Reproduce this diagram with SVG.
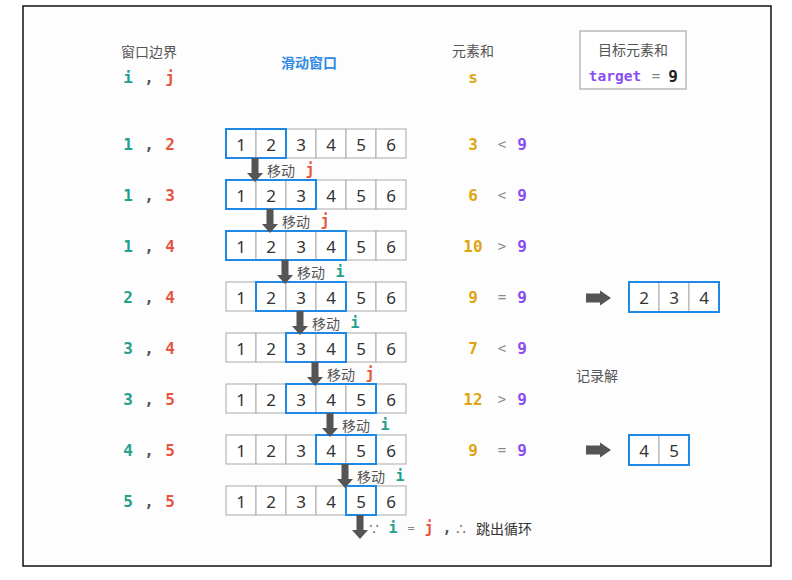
<svg xmlns="http://www.w3.org/2000/svg" width="792" height="580" viewBox="0 0 792 580">
<style>
.cell{fill:#fff;stroke:#aaa;stroke-width:1}
.win{fill:none;stroke:#1e88e5;stroke-width:2}
.num{font-family:"Noto Sans","DejaVu Sans",sans-serif;font-size:17px;fill:#333;text-anchor:middle;dominant-baseline:central}
.cn{font-family:"Noto Sans CJK SC",sans-serif;font-size:14px;fill:#555;dominant-baseline:central}
.mono{font-family:"DejaVu Sans Mono","Liberation Mono",monospace;font-size:16px;font-weight:bold;text-anchor:middle;dominant-baseline:central}
.vi{fill:#26a08e}.vj{fill:#e8553f}.vs{fill:#e0a512}.vt{fill:#8a4df0}.vk{fill:#222}
.op{font-family:"DejaVu Sans Mono",monospace;font-size:14px;fill:#888;text-anchor:middle;dominant-baseline:central}
.arr{fill:#555}
</style>
<defs>
<g id="row">
<rect class="cell" x="0" y="0" width="30" height="29"/>
<rect class="cell" x="30" y="0" width="30" height="29"/>
<rect class="cell" x="60" y="0" width="30" height="29"/>
<rect class="cell" x="90" y="0" width="30" height="29"/>
<rect class="cell" x="120" y="0" width="30" height="29"/>
<rect class="cell" x="150" y="0" width="30" height="29"/>
<text class="num" x="15" y="15">1</text>
<text class="num" x="45" y="15">2</text>
<text class="num" x="75" y="15">3</text>
<text class="num" x="105" y="15">4</text>
<text class="num" x="135" y="15">5</text>
<text class="num" x="165" y="15">6</text>
</g>
<polygon id="down" class="arr" points="-3.5,0 3.5,0 3.5,15 8,15 0,24 -8,15 -3.5,15"/>
<polygon id="right" class="arr" points="0,-4.5 14,-4.5 14,-7.5 25,0 14,7.5 14,4.5 0,4.5"/>
</defs>
<rect x="23" y="6" width="748" height="560" fill="#fdfdfd" stroke="#111" stroke-width="1.5"/>

<g id="header">
<text class="cn" x="149" y="51" text-anchor="middle">窗口边界</text>
<text class="mono vi" x="128" y="77">i</text>
<text class="mono vk" x="149" y="77" style="fill:#555">,</text>
<text class="mono vj" x="170" y="77">j</text>
<text class="cn" x="309" y="62" text-anchor="middle" style="fill:#2f8ae6;font-weight:bold">滑动窗口</text>
<text class="cn" x="473" y="50" text-anchor="middle">元素和</text>
<text class="mono vs" x="473" y="77">s</text>
</g>
<g id="target">
<rect x="580" y="31" width="106" height="58" fill="#fff" stroke="#999" stroke-width="1"/>
<text class="cn" x="633" y="49" text-anchor="middle">目标元素和</text>
<text class="mono vt" x="615" y="76" style="font-size:14.5px">target</text>
<text class="op" x="656" y="76">=</text>
<text class="mono vk" x="673" y="76">9</text>
</g>

<g id="row1" transform="translate(0,129)">
<text class="mono vi" x="128" y="15">1</text><text class="mono" x="149" y="15" style="fill:#555">,</text><text class="mono vj" x="170" y="15">2</text>
<use href="#row" x="226"/><rect class="win" x="226" y="0" width="60" height="29"/>
<text class="mono vs" x="473" y="15">3</text><text class="op" x="502" y="15">&lt;</text><text class="mono vt" x="522" y="15">9</text>
</g>
<g id="row2" transform="translate(0,180)">
<text class="mono vi" x="128" y="15">1</text><text class="mono" x="149" y="15" style="fill:#555">,</text><text class="mono vj" x="170" y="15">3</text>
<use href="#row" x="226"/><rect class="win" x="226" y="0" width="90" height="29"/>
<text class="mono vs" x="473" y="15">6</text><text class="op" x="502" y="15">&lt;</text><text class="mono vt" x="522" y="15">9</text>
</g>
<g id="row3" transform="translate(0,231)">
<text class="mono vi" x="128" y="15">1</text><text class="mono" x="149" y="15" style="fill:#555">,</text><text class="mono vj" x="170" y="15">4</text>
<use href="#row" x="226"/><rect class="win" x="226" y="0" width="120" height="29"/>
<text class="mono vs" x="473" y="15">10</text><text class="op" x="502" y="15">&gt;</text><text class="mono vt" x="522" y="15">9</text>
</g>
<g id="row4" transform="translate(0,282)">
<text class="mono vi" x="128" y="15">2</text><text class="mono" x="149" y="15" style="fill:#555">,</text><text class="mono vj" x="170" y="15">4</text>
<use href="#row" x="226"/><rect class="win" x="256" y="0" width="90" height="29"/>
<text class="mono vs" x="473" y="15">9</text><text class="op" x="502" y="15">=</text><text class="mono vt" x="522" y="15">9</text>
</g>
<g id="row5" transform="translate(0,333)">
<text class="mono vi" x="128" y="15">3</text><text class="mono" x="149" y="15" style="fill:#555">,</text><text class="mono vj" x="170" y="15">4</text>
<use href="#row" x="226"/><rect class="win" x="286" y="0" width="60" height="29"/>
<text class="mono vs" x="473" y="15">7</text><text class="op" x="502" y="15">&lt;</text><text class="mono vt" x="522" y="15">9</text>
</g>
<g id="row6" transform="translate(0,384)">
<text class="mono vi" x="128" y="15">3</text><text class="mono" x="149" y="15" style="fill:#555">,</text><text class="mono vj" x="170" y="15">5</text>
<use href="#row" x="226"/><rect class="win" x="286" y="0" width="90" height="29"/>
<text class="mono vs" x="473" y="15">12</text><text class="op" x="502" y="15">&gt;</text><text class="mono vt" x="522" y="15">9</text>
</g>
<g id="row7" transform="translate(0,435)">
<text class="mono vi" x="128" y="15">4</text><text class="mono" x="149" y="15" style="fill:#555">,</text><text class="mono vj" x="170" y="15">5</text>
<use href="#row" x="226"/><rect class="win" x="316" y="0" width="60" height="29"/>
<text class="mono vs" x="473" y="15">9</text><text class="op" x="502" y="15">=</text><text class="mono vt" x="522" y="15">9</text>
</g>
<g id="row8" transform="translate(0,486)">
<text class="mono vi" x="128" y="15">5</text><text class="mono" x="149" y="15" style="fill:#555">,</text><text class="mono vj" x="170" y="15">5</text>
<use href="#row" x="226"/><rect class="win" x="346" y="0" width="30" height="29"/>
</g>

<g id="connectors">
<use href="#down" x="255" y="158"/>
<use href="#down" x="270" y="209"/>
<use href="#down" x="285" y="260"/>
<use href="#down" x="300" y="311"/>
<use href="#down" x="315" y="362"/>
<use href="#down" x="330" y="413"/>
<use href="#down" x="345" y="464"/>
<use href="#down" x="360" y="515"/>
<use href="#right" x="586" y="298"/>
<use href="#right" x="586" y="450"/>
</g>

<g id="move-labels">
<text class="cn" x="267" y="170">移动</text><text class="mono vj" x="310" y="170" style="font-size:15px">j</text>
<text class="cn" x="282" y="221">移动</text><text class="mono vj" x="325" y="221" style="font-size:15px">j</text>
<text class="cn" x="297" y="272">移动</text><text class="mono vi" x="340" y="272" style="font-size:15px">i</text>
<text class="cn" x="312" y="323">移动</text><text class="mono vi" x="355" y="323" style="font-size:15px">i</text>
<text class="cn" x="327" y="374">移动</text><text class="mono vj" x="370" y="374" style="font-size:15px">j</text>
<text class="cn" x="342" y="425">移动</text><text class="mono vi" x="385" y="425" style="font-size:15px">i</text>
<text class="cn" x="357" y="476">移动</text><text class="mono vi" x="400" y="476" style="font-size:15px">i</text>
</g>

<g id="exit">
<text class="cn" x="374" y="528" text-anchor="middle" style="font-size:12px">∵</text>
<text class="mono vi" x="393" y="528" style="font-size:15px">i</text>
<text class="op" x="411" y="528" style="font-size:12px">=</text>
<text class="mono vj" x="429" y="528" style="font-size:15px">j</text>
<text class="mono" x="447" y="528" style="fill:#555;font-size:15px">,</text>
<text class="cn" x="461" y="528" text-anchor="middle" style="font-size:12px">∴</text>
<text class="cn" x="476" y="528" style="fill:#333">跳出循环</text>
</g>

<g id="result1">
<rect class="cell" x="629" y="282" width="30" height="30"/>
<rect class="cell" x="659" y="282" width="30" height="30"/>
<rect class="cell" x="689" y="282" width="30" height="30"/>
<text class="num" x="644" y="297">2</text><text class="num" x="674" y="297">3</text><text class="num" x="704" y="297">4</text>
<rect class="win" x="629" y="282" width="90" height="30"/>
</g>
<text class="cn" x="597" y="375" text-anchor="middle">记录解</text>
<g id="result2">
<rect class="cell" x="629" y="435" width="30" height="30"/>
<rect class="cell" x="659" y="435" width="30" height="30"/>
<text class="num" x="644" y="450">4</text><text class="num" x="674" y="450">5</text>
<rect class="win" x="629" y="435" width="60" height="30"/>
</g>
</svg>
